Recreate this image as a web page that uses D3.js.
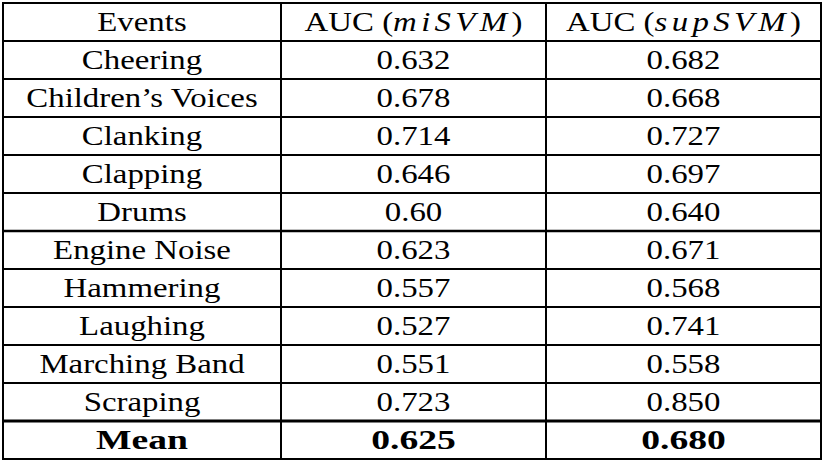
<!DOCTYPE html>
<html>
<head>
<meta charset="utf-8">
<script src="https://cdn.jsdelivr.net/npm/d3@7"></script>
<style>
  body { margin: 0; background: #fff; }
  svg { display: block; }
</style>
</head>
<body>
<svg id="chart" width="825" height="463"></svg>
<script>
// table contents
const events = ["Cheering", "Children\u2019s Voices", "Clanking", "Clapping", "Drums",
  "Engine Noise", "Hammering", "Laughing", "Marching Band", "Scraping"];
const miSVM = ["0.632", "0.678", "0.714", "0.646", "0.60",
  "0.623", "0.557", "0.527", "0.551", "0.723"];
const supSVM = ["0.682", "0.668", "0.727", "0.697", "0.640",
  "0.671", "0.568", "0.741", "0.558", "0.850"];
const meanRow = ["Mean", "0.625", "0.680"];
const headers = [
  [{ t: "Events" }],
  [{ t: "AUC (" }, { t: "miSVM", i: true }, { t: ")" }],
  [{ t: "AUC (" }, { t: "supSVM", i: true }, { t: ")" }]
];

const svg = d3.select("#chart");
const font = "'Liberation Serif', 'DejaVu Serif', serif";
const fontSize = 26.5;
// the original is a bit wide-set, so stretch text horizontally
const stretch = 1.24;
const boldStretch = 1.42;

// column edges and row layout
const colEdges = [3, 281, 546, 821];
const nRows = events.length + 2;
const y = d3.scaleBand().domain(d3.range(nRows)).range([3, 459]).padding(0);

const rows = [headers].concat(
  events.map((e, i) => [e, miSVM[i], supSVM[i]]),
  [meanRow]
);

const g = svg.append("g");

rows.forEach((row, r) => {
  row.forEach((cell, c) => {
    const cx = (colEdges[c] + colEdges[c + 1]) / 2;
    const cy = y(r) + 27.5;
    const isMean = r === nRows - 1;
    const text = g.append("text")
      .attr("transform", `translate(${cx},${cy}) scale(${isMean ? boldStretch : stretch},1)`)
      .attr("text-anchor", "middle")
      .style("font-family", font)
      .style("font-size", fontSize + "px")
      .style("fill", "#000");
    if (r === 0) {
      cell.forEach(part => {
        text.append("tspan")
          .text(part.t)
          .style("font-style", part.i ? "italic" : "normal")
          .style("letter-spacing", part.i ? "3.5px" : null); // math italic is set wide
      });
    } else {
      text.text(cell);
      if (isMean) text.style("font-weight", "bold");
    }
  });
});

// horizontal rules
d3.range(nRows + 1).forEach(r => {
  const yy = r < nRows ? y(r) : y(nRows - 1) + y.bandwidth();
  let w = 2;
  if (r === 6) w = 2.6;
  if (r === nRows - 1) w = 3;
  g.append("line")
    .attr("x1", colEdges[0] - 1)
    .attr("x2", colEdges[3] + 1)
    .attr("y1", yy)
    .attr("y2", yy)
    .attr("stroke", "#000")
    .attr("stroke-width", w);
});

// vertical rules
colEdges.forEach(x => {
  g.append("line")
    .attr("x1", x)
    .attr("x2", x)
    .attr("y1", 3)
    .attr("y2", 459)
    .attr("stroke", "#000")
    .attr("stroke-width", 2);
});
</script>
</body>
</html>
